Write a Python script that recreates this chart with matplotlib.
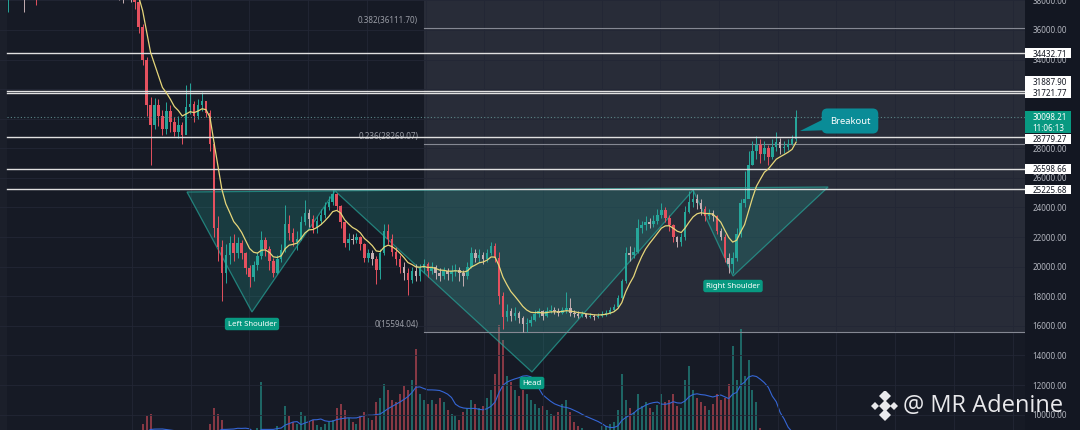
import numpy as np
import pandas as pd
import matplotlib
matplotlib.use('Agg')
import matplotlib.pyplot as plt
from matplotlib.patches import Polygon, Rectangle

plt.rcParams['font.family'] = ['Noto Sans', 'DejaVu Sans']

# ---- data (prices in thousands of USDT, one candle ~ 2 days) ----
open0 = 38.0
close_k = [
    38.4, 38.9, 39.2, 38.8, 38.6, 39.1, 39.4, 38.9, 39.3, 39.6,
    40.2, 40.8, 41.3, 40.9, 41.6, 42.1, 41.7, 42.4, 42.0, 41.5,
    41.8, 41.1, 40.6, 40.9, 40.2, 39.8, 39.5, 39.0,
    38.6, 38.3, 38.7, 38.4, 37.9, 36.2, 34.0, 30.9, 29.6,
    30.9, 30.2, 29.3, 30.5, 29.8, 29.1, 29.6, 28.9,
    30.8, 31.0, 30.2, 30.9, 31.2, 30.4, 28.3,
    22.6, 21.3, 19.6, 20.8, 21.6, 20.9, 21.6, 20.9, 19.9, 19.3,
    20.1, 20.7, 21.8, 21.2, 20.4, 19.6, 20.5, 21.1,
    22.9, 22.3, 21.7, 21.9, 23.0, 23.6, 23.2, 22.6, 23.1, 23.5, 24.0, 24.4, 24.9,
    24.1, 23.0, 21.6, 21.9, 21.8, 22.0, 21.5, 20.6, 20.9, 20.5, 19.8,
    20.9, 22.4, 21.9, 21.0, 20.5, 20.0, 19.6, 19.1, 19.7, 19.4,
    19.9, 20.2, 19.7, 20.0, 19.6, 19.4, 19.7, 19.5, 19.7, 19.8, 19.6, 19.4, 20.0,
    20.9, 20.6, 20.8, 20.5, 20.9, 21.4, 20.6,
    18.0, 16.6, 17.0, 16.7, 16.9, 16.5, 16.1, 16.2, 16.4, 16.8, 17.0, 16.7,
    17.0, 17.1, 17.0, 16.9, 17.1, 17.2, 16.9, 16.8, 16.7, 16.8, 16.6, 16.7, 16.6, 16.7, 16.8, 16.9, 17.1, 17.3,
    17.9, 19.0, 20.9, 20.8, 21.0, 22.6, 22.8, 23.0, 22.9, 23.1, 23.5, 23.8, 23.3, 22.8, 22.0, 21.7, 22.0,
    23.7, 24.4, 24.6, 24.3, 23.9, 23.4, 23.6, 23.4, 22.4, 22.0, 20.6, 20.2, 20.6,
    22.2, 24.3, 24.6, 26.9, 27.8, 28.2, 27.6, 28.0, 27.4, 28.1, 28.4, 28.0, 28.1, 28.3, 28.6, 30.098,
]
high_k = [
    39.0, 39.3, 39.6, 39.4, 39.1, 39.5, 39.8, 39.5, 39.7, 40.1,
    40.7, 41.2, 41.8, 41.5, 42.0, 42.6, 42.3, 42.9, 42.6, 42.1,
    42.2, 41.9, 41.3, 41.2, 41.0, 40.4, 40.0, 39.7,
    39.2, 39.0, 39.1, 38.9, 38.6, 38.0, 36.4, 34.2, 31.5,
    31.4, 31.3, 30.6, 31.1, 30.9, 30.1, 30.2, 29.8,
    32.3, 32.4, 31.2, 31.3, 31.8, 31.2, 30.6,
    28.4, 23.4, 21.8, 21.5, 22.1, 22.2, 22.0, 21.8, 21.0, 20.1,
    20.4, 21.0, 22.4, 22.0, 21.4, 20.6, 20.8, 21.5,
    24.2, 23.5, 22.6, 22.4, 23.4, 24.5, 23.9, 23.5, 23.4, 23.9, 24.4, 24.8, 25.2,
    25.0, 24.2, 23.1, 22.3, 22.2, 22.3, 22.1, 21.6, 21.2, 21.1, 20.7,
    21.2, 22.9, 22.9, 22.2, 21.3, 20.8, 20.3, 19.9, 20.0, 20.2,
    20.2, 20.5, 20.3, 20.3, 20.1, 19.9, 20.0, 19.9, 20.1, 20.2, 20.0, 19.8, 20.3,
    21.3, 21.2, 21.2, 21.0, 21.2, 21.7, 21.6,
    21.0, 18.3, 17.5, 17.2, 17.3, 17.0, 16.7, 16.5, 16.7, 17.1, 17.2, 17.1,
    17.3, 17.4, 17.3, 17.2, 17.3, 18.3, 17.9, 17.1, 17.0, 17.0, 16.9, 16.9, 16.8, 16.9, 17.0, 17.1, 17.3, 17.5,
    18.1, 19.2, 21.3, 21.4, 21.3, 23.2, 23.1, 23.4, 23.3, 23.5, 23.9, 24.3, 24.0, 23.5, 22.9, 22.1, 22.3,
    24.1, 25.1, 25.2, 24.9, 24.6, 24.1, 23.9, 23.8, 23.5, 22.6, 22.2, 20.9, 21.0,
    22.6, 24.6, 26.5, 27.8, 28.5, 28.8, 28.6, 28.5, 28.2, 28.6, 29.1, 28.7, 28.5, 28.6, 28.9, 30.6,
]
low_k = [
    37.2, 38.2, 38.6, 38.3, 37.2, 38.5, 38.9, 37.7, 38.7, 39.0,
    39.5, 40.1, 40.6, 40.4, 40.8, 41.4, 41.3, 41.6, 41.6, 41.0,
    41.2, 40.9, 40.3, 40.4, 39.9, 39.5, 39.1, 38.6,
    38.0, 37.8, 38.1, 37.9, 37.4, 35.8, 33.6, 30.2, 26.9,
    29.3, 29.5, 28.9, 29.0, 29.1, 28.8, 28.7, 28.3,
    29.0, 30.3, 29.8, 30.0, 30.5, 30.1, 27.8,
    22.0, 20.4, 17.7, 18.9, 20.2, 20.4, 20.6, 20.5, 19.5, 18.6,
    19.0, 19.8, 20.5, 20.7, 19.8, 19.3, 19.5, 20.3,
    21.0, 21.8, 21.4, 21.1, 21.8, 22.8, 22.7, 22.3, 22.3, 22.9, 23.3, 23.8, 24.2,
    23.8, 22.6, 21.3, 21.1, 21.5, 21.6, 21.1, 20.3, 20.3, 20.1, 18.8,
    19.2, 20.8, 21.5, 20.7, 20.1, 19.6, 19.1, 18.1, 18.9, 19.0,
    19.0, 19.6, 19.3, 19.5, 19.2, 19.0, 19.2, 19.1, 19.0, 19.4, 19.0, 18.7, 19.2,
    19.9, 20.3, 20.3, 20.2, 20.3, 20.8, 20.3,
    17.5, 15.8, 16.3, 16.3, 16.4, 16.2, 15.6, 15.6, 16.0, 16.3, 16.6, 16.4,
    16.6, 16.9, 16.8, 16.7, 16.8, 16.9, 16.7, 16.6, 16.5, 16.6, 16.5, 16.5, 16.4, 16.5, 16.6, 16.7, 16.8, 17.0,
    17.2, 17.8, 18.9, 20.4, 20.6, 20.9, 22.3, 22.5, 22.6, 22.7, 22.9, 23.3, 23.0, 22.4, 21.7, 21.3, 21.4,
    21.8, 23.6, 24.0, 23.9, 23.5, 23.1, 23.2, 23.1, 22.2, 21.8, 20.3, 19.6, 19.6,
    20.4, 22.0, 24.0, 24.7, 26.9, 27.3, 27.0, 27.2, 26.9, 27.3, 27.8, 27.6, 27.7, 27.9, 28.2, 28.5,
]
# volume, relative units (the pane baseline sits a little below the crop)
volume = [
    22, 20, 24, 21, 19, 23, 25, 20, 18, 22, 21, 24, 19, 20, 23, 26, 22, 21, 25, 20,
    19, 22, 24, 21, 20, 23, 22, 26, 24, 21, 25, 27, 26, 30,
    36, 44, 46, 30, 24, 22, 20, 22, 20, 21, 22,
    28, 22, 20, 19, 21, 22,
    36, 52, 46, 40, 28, 24, 22, 26, 20, 24, 30,
    22, 32, 78, 28, 24, 22, 34, 26,
    54, 44, 38, 36, 48, 44, 38, 40, 35, 33, 36, 38, 40,
    52, 56, 50, 42, 38, 36, 44, 48, 42, 40, 58,
    62, 76, 70, 60, 58, 66, 74, 70, 80, 111,
    66, 60, 56, 60, 56, 62, 58, 50, 46, 44, 40, 48, 52,
    60, 56, 52, 54, 62, 70, 86,
    135, 120, 84, 78, 70, 64, 70, 66, 60, 56, 52, 54,
    50, 46, 44, 48, 56, 60, 48, 38, 34, 32, 30, 29, 28, 30, 34, 34, 36, 38,
    50, 86, 60, 52, 48, 66, 54, 58, 52, 48, 55, 66, 58, 60, 66, 54, 52,
    80, 94, 70, 62, 58, 54, 50, 56, 66, 60, 62, 76, 114,
    80, 131, 84, 100, 70, 58, 32, 28, 30, 26, 24, 22, 20, 18, 24, 28,
]

levels = [34432.71, 31887.90, 31721.77, 28779.27, 26598.66, 25225.68]
last_price = 30098.21
fib_names = ['0.382', '0.236', '0']
fib_vals = [36111.70, 28269.07, 15594.04]

# inverse head & shoulders drawing (candle index, price)
pattern_idx = [45.2, 61.6, 82.6, 132.3, 173.0, 183.1, 207.1]
pattern_price = [25050, 16940, 25115, 12885, 25180, 19370, 25385]

price_ticks = list(range(10000, 40000, 2000))
hidden_ticks = [30000, 32000]  # fully covered by the level labels

# ---- layout helpers ----
W, H = 1080, 431
X0, DX = 8, 3.96
P_TOP, P_BOT = 38088, 8966
BG = '#161a25'
UP, DOWN, PALE = '#26a69a', '#e4515f', '#c4aeb2'


def px_x(x):
    return (x - X0) / DX


def px_y(y):
    return P_TOP - y * (P_TOP - P_BOT) / H


c = np.array(close_k) * 1000
hi = np.array(high_k) * 1000
lo = np.array(low_k) * 1000
o = np.r_[open0 * 1000, c[:-1]]
vol = np.array(volume, dtype=float)
idx = np.arange(len(c))

up = c >= o
body_col = np.where(up, UP, np.where(o - c > 450, DOWN, PALE))
vol_col = np.where(up, UP, DOWN)

fig = plt.figure(figsize=(W / 100, H / 100), dpi=100, facecolor='#131722')
rect = [0, 0, 1025 / W, 1]

# back axes: background, fib zone, volume
axv = fig.add_axes(rect)
axv.set_facecolor(BG)
axv.set_xlim(px_x(0), px_x(1025))
axv.set_ylim(30, 30 + H)
axv.set_xticks([])
axv.set_yticks([])
for s in axv.spines.values():
    s.set_visible(False)
axv.axvspan(px_x(424), px_x(1025), ymin=(fib_vals[2] - P_BOT) / (P_TOP - P_BOT), ymax=1,
            color='#282c38', zorder=0, lw=0)
axv.axvspan(px_x(0), px_x(7), color='#1b1f2a', zorder=0, lw=0)
axv.bar(idx, vol, width=0.5, color=vol_col, alpha=0.55, linewidth=0, zorder=1)
vol_ma = pd.Series(vol).rolling(10, min_periods=1).mean()
axv.plot(idx, vol_ma, color='#3566d6', lw=0.8, zorder=2)

# front axes: price
ax = fig.add_axes(rect)
ax.patch.set_alpha(0)
ax.set_xlim(px_x(0), px_x(1025))
ax.set_ylim(P_BOT, P_TOP)
ax.set_xticks(np.arange(px_x(132), px_x(1025), 58.7 / DX))
ax.set_yticks(price_ticks)
ax.tick_params(length=0, labelleft=False, labelbottom=False)
ax.grid(True, color='#232735', lw=0.6)
ax.set_axisbelow(True)
for s in ax.spines.values():
    s.set_visible(False)

teal = (38 / 255, 166 / 255, 154 / 255)
ax.add_patch(Polygon(np.column_stack([pattern_idx, pattern_price]), closed=True,
                     facecolor=teal + (0.24,), edgecolor=teal + (0.7,), lw=0.9, zorder=2))

for fv, fn in zip(fib_vals, fib_names):
    ax.axhline(fv, xmin=424 / 1025, color='#858893', lw=0.8, zorder=2.5)
    ax.text(px_x(418), fv + 8.5 * (P_TOP - P_BOT) / H, f'{fn}({fv:.2f})', ha='right', va='center',
            fontsize=5.8, color='#9a9da6', zorder=2.5)

# candles
ax.vlines(idx, lo, hi, colors=body_col, lw=0.7, zorder=3)
ax.bar(idx, np.maximum(np.abs(c - o), 60), bottom=np.minimum(o, c), width=0.62,
       color=body_col, linewidth=0, zorder=3.1)

ema = pd.Series(c).ewm(span=8, adjust=False).mean()
ax.plot(idx, ema, color='#e6d67a', lw=0.9, zorder=4)

for lv in levels:
    ax.axhline(lv, xmin=7 / 1025, color='#e0e0e0', lw=1.0, zorder=3.5)
ax.axhline(last_price, xmin=7 / 1025, color='#5a8587', lw=0.8, ls=(0, (1, 2)), zorder=3.4)

lab = dict(ha='center', va='center', fontsize=5.6, color='white', zorder=6,
           bbox=dict(boxstyle='round,pad=0.35,rounding_size=0.3', fc='#089981', ec='none'))
ax.text(px_x(252), px_y(325), 'Left Shoulder', **lab)
ax.text(px_x(532), px_y(384), 'Head', **lab)
ax.text(px_x(733), px_y(287), 'Right Shoulder', **lab)

ax.add_patch(Polygon([(px_x(828), px_y(118)), (px_x(800), px_y(132)), (px_x(832), px_y(131))],
                     closed=True, color='#0a8c97', lw=0, zorder=5.9))
ax.text(px_x(850), px_y(122), 'Breakout', ha='center', va='center', fontsize=6.8, color='white',
        zorder=6, bbox=dict(boxstyle='round,pad=0.85,rounding_size=0.6', fc='#0a8c97', ec='none'))

# price scale
axp = fig.add_axes([1025 / W, 0, 55 / W, 1])
axp.set_xlim(0, 1)
axp.set_ylim(P_BOT, P_TOP)
axp.axis('off')
for v in price_ticks:
    if v in hidden_ticks:
        continue
    axp.text(0.13, v, f'{v:.2f}', color='#b2b5be', fontsize=5.8, va='center', ha='left', zorder=1)

boxes = [
    ('34432.71', 54, 10, 'white', '#131722'),
    ('31887.90\n31721.77', 88, 22, 'white', '#131722'),
    ('30098.21\n11:06:13', 123, 22, '#089981', 'white'),
    ('28779.27', 139.5, 10, 'white', '#131722'),
    ('26598.66', 170, 10, 'white', '#131722'),
    ('25225.68', 190.5, 10, 'white', '#131722'),
]
for txt, yc, hh, fc, tc in boxes:
    y0 = px_y(yc + hh / 2)
    axp.add_patch(Rectangle((0, y0), 0.84, px_y(yc - hh / 2) - y0, facecolor=fc, lw=0, zorder=2))
    axp.text(0.13, px_y(yc), txt, color=tc, fontsize=5.8, va='center', ha='left',
             linespacing=1.3, zorder=3)

# watermark
fig.text(903 / W, (H - 412) / H, '@ MR Adenine', fontsize=17, color='#e9e9ec',
         family=['Open Sans', 'DejaVu Sans'], va='baseline', ha='left', zorder=10)
axl = fig.add_axes([870 / W, (H - 421) / H, 29 / W, 29 / H])
axl.set_xlim(-1.7, 1.7)
axl.set_ylim(-1.7, 1.7)
axl.axis('off')
for (lx, ly, ms) in [(0, 0, 6.5), (-1.15, 0, 4.5), (1.15, 0, 4.5), (0, 1.1, 6), (0, -1.1, 6)]:
    axl.plot(lx, ly, marker='D', ms=ms, color='#e9e9ec', mew=0)

fig.savefig('out.png', dpi=100, facecolor=fig.get_facecolor())
